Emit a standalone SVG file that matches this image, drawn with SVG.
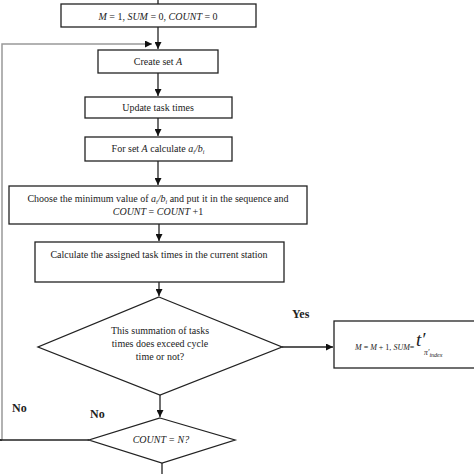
<svg xmlns="http://www.w3.org/2000/svg" width="474" height="474" viewBox="0 0 474 474">
<style>
.box{fill:#fff;stroke:#222;stroke-width:1.3}
.ln{fill:none;stroke:#222;stroke-width:1.3}
.t{font-family:"Liberation Serif",serif;font-size:10px;fill:#222;text-anchor:middle}
.i{font-style:italic}
.b{font-family:"Liberation Serif",serif;font-size:12px;font-weight:bold;fill:#222}
</style>
<defs>
<marker id="ah" viewBox="0 0 10 10" refX="10" refY="5" markerWidth="7" markerHeight="7" markerUnits="userSpaceOnUse" orient="auto">
<path d="M0,0 L10,5 L0,10 z" fill="#111"/>
</marker>
</defs>
<rect width="474" height="474" fill="#fff"/>
<g id="connectors">
<line class="ln" x1="158" y1="0" x2="158" y2="4"/>
<line class="ln" x1="158" y1="27" x2="158" y2="49" marker-end="url(#ah)"/>
<polyline class="ln" points="0,440 2,440" />
<polyline points="2,440 2,44 152,44" fill="none" stroke="#999" stroke-width="1.5" marker-end="url(#ah)"/>
<line class="ln" x1="158" y1="73" x2="158" y2="96" marker-end="url(#ah)"/>
<line class="ln" x1="158" y1="118" x2="158" y2="136" marker-end="url(#ah)"/>
<line class="ln" x1="158" y1="161" x2="158" y2="185" marker-end="url(#ah)"/>
<line class="ln" x1="159" y1="224" x2="159" y2="241" marker-end="url(#ah)"/>
<line class="ln" x1="159" y1="282" x2="159" y2="296" marker-end="url(#ah)"/>
<line class="ln" x1="282" y1="347" x2="333" y2="347" marker-end="url(#ah)"/>
<line class="ln" x1="160" y1="395" x2="160" y2="417" marker-end="url(#ah)"/>
<line class="ln" x1="89" y1="440" x2="0" y2="440"/>
<line class="ln" x1="162" y1="463" x2="162" y2="474"/>
<text class="b" x="292" y="318">Yes</text>
<text class="b" x="12" y="412">No</text>
<text class="b" x="90" y="418">No</text>
</g>
<g id="init">
<rect class="box" x="61" y="4" width="195" height="23"/>
<text class="t" x="158" y="20"><tspan class="i">M</tspan> = 1, <tspan class="i">SUM</tspan> = 0, <tspan class="i">COUNT</tspan> = 0</text>
</g>
<g id="create">
<rect class="box" x="98" y="50" width="120" height="23"/>
<text class="t" x="158" y="65">Create set <tspan class="i">A</tspan></text>
</g>
<g id="update">
<rect class="box" x="85" y="97" width="147" height="21"/>
<text class="t" x="158" y="111">Update task times</text>
</g>
<g id="calc">
<rect class="box" x="85" y="137" width="147" height="24"/>
<text class="t" x="158" y="152">For set <tspan class="i">A</tspan> calculate <tspan class="i">a</tspan><tspan class="i" font-size="6" dy="2">i</tspan><tspan class="i" dy="-2">/b</tspan><tspan class="i" font-size="6" dy="2">i</tspan></text>
</g>
<g id="choose">
<rect class="box" x="9" y="186" width="298" height="38"/>
<text class="t" x="158" y="202">Choose the minimum value of <tspan class="i">a</tspan><tspan class="i" font-size="6" dy="2">i</tspan><tspan class="i" dy="-2">/b</tspan><tspan class="i" font-size="6" dy="2">i</tspan><tspan dy="-2"> and put it in the sequence and</tspan></text>
<text class="t" x="158" y="215"><tspan class="i">COUNT</tspan> = <tspan class="i">COUNT</tspan> +1</text>
</g>
<g id="assigned">
<rect class="box" x="35" y="242" width="249" height="40"/>
<text class="t" x="159" y="258">Calculate the assigned task times in the current station</text>
</g>
<g id="exceed">
<polygon class="box" points="159,297 282,347 160,395 38,347"/>
<text class="t" x="160" y="334">This summation of tasks</text>
<text class="t" x="160" y="347">times does exceed cycle</text>
<text class="t" x="160" y="360">time or not?</text>
</g>
<g id="newstation">
<rect class="box" x="334" y="321" width="145" height="47"/>
<text x="355" y="350" font-family="Liberation Serif,serif" font-size="8" fill="#222"><tspan class="i">M</tspan> = <tspan class="i">M</tspan> + 1, <tspan class="i">SUM</tspan>=</text>
<text x="416" y="346" font-family="Liberation Serif,serif" font-size="19" font-style="italic" fill="#222">t′</text>
<text x="424" y="355" font-family="Liberation Serif,serif" font-size="7.5" font-style="italic" fill="#222">π′<tspan font-size="6" dy="2">index</tspan></text>
</g>
<g id="countcheck">
<polygon class="box" points="160,418 235,440 162,463 89,440"/>
<text class="t i" x="161" y="443">COUNT = N?</text>
</g>
</svg>
